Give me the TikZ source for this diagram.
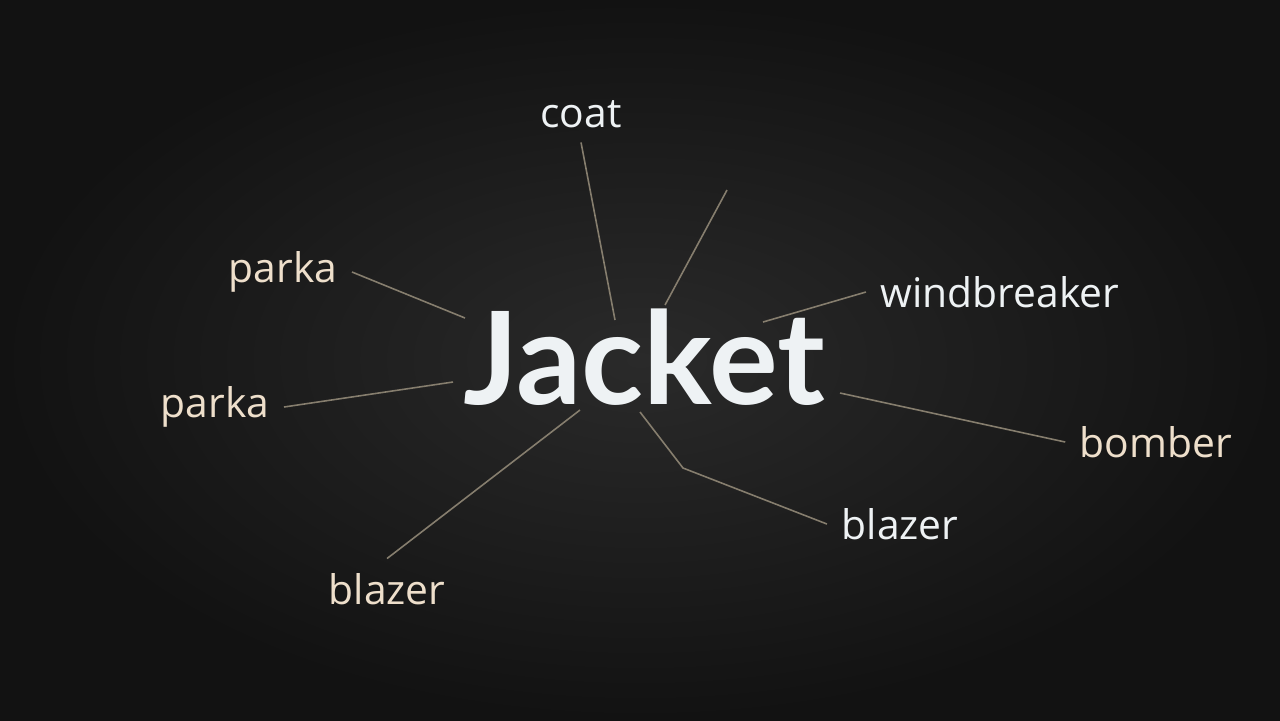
\documentclass[tikz,border=0pt]{standalone}
\usepackage{fontspec}
\setmainfont{Open Sans}
\newfontfamily\headfont{Lato}
\usepackage{xcolor}

\definecolor{bgmid}{HTML}{2A2A2A}
\definecolor{bgedge}{HTML}{121212}
\definecolor{wordwhite}{HTML}{EEF2F4}
\definecolor{wordtan}{HTML}{EEDFCB}
\definecolor{spoke}{HTML}{867E6E}

\tikzset{
  word/.style={inner sep=4pt,font=\fontsize{11.6}{14}\selectfont},
  spokeline/.style={draw=spoke,line width=0.45pt}
}

\begin{document}
\begin{tikzpicture}[x=0.01cm,y=-0.01cm]
          \useasboundingbox (0,0) rectangle (1280,720);
          \shade[inner color=bgmid,outer color=bgedge] (0,0) rectangle (1280,720);

          % centre word
          \node[text=wordwhite,font=\headfont\fontsize{36.6}{42}\bfseries\selectfont] (jacket) at (644,357) {Jacket};

          % words round it
          \node[word,text=wordwhite] (coat) at (581,114) {coat};
          \node[word,text=wordwhite] (windbreaker) at (1000,292) {windbreaker};
          \node[word,text=wordtan] (bomber) at (1156,442) {bomber};
          \node[word,text=wordwhite] (blazerR) at (900,524) {blazer};
          \node[word,text=wordtan] (blazerL) at (387,589) {blazer};
          \node[word,text=wordtan] (parkaT) at (283,272) {parka};
          \node[word,text=wordtan] (parkaL) at (215,407) {parka};

          % inner ends of the spokes
          \coordinate (jcoat) at (615,320);
          \coordinate (jwind) at (763,322);
          \coordinate (jbomb) at (840,393);
          \coordinate (jblazR) at (640,412);
          \coordinate (jbend) at (683,468);
          \coordinate (jblazL) at (580,410);
          \coordinate (jparkT) at (465,318);
          \coordinate (jparkL) at (453,382);
          \coordinate (loneA) at (665,305);
          \coordinate (loneB) at (727,190);

          \draw[spokeline] (jcoat)--(coat.south);
          \draw[spokeline] (jwind)--(windbreaker.west);
          \draw[spokeline] (jbomb)--(bomber.west);
          \draw[spokeline] (jblazR)--(jbend)--(blazerR.west);
          \draw[spokeline] (jblazL)--(blazerL.north);
          \draw[spokeline] (jparkT)--(parkaT.east);
          \draw[spokeline] (jparkL)--(parkaL.east);
          \draw[spokeline] (loneA)--(loneB);
        \end{tikzpicture}
\end{document}
